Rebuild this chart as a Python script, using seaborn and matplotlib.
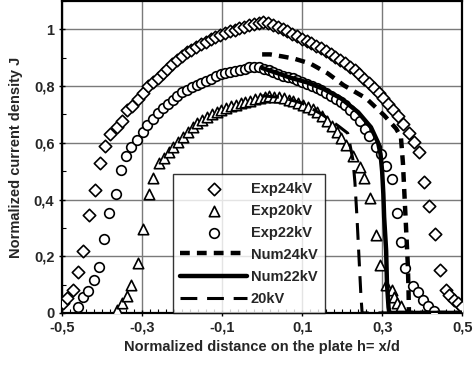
import matplotlib
matplotlib.use("Agg")
import matplotlib.pyplot as plt
import matplotlib.ticker as ticker
import seaborn as sns
import pandas as pd

# Exp24kV (diamonds)
exp24_x = [-0.497, -0.487, -0.472, -0.460, -0.447, -0.432, -0.417, -0.405, -0.392, -0.380,
           -0.362, -0.350, -0.337, -0.325, -0.310, -0.297, -0.285,
           -0.273, -0.261, -0.249, -0.237, -0.225, -0.213, -0.201, -0.189, -0.177, -0.165,
           -0.153, -0.141, -0.129, -0.117, -0.105, -0.093, -0.081, -0.069, -0.057, -0.045,
           -0.033, -0.021, -0.009, 0.003, 0.015, 0.027, 0.039, 0.051, 0.063, 0.075,
           0.087, 0.099, 0.111, 0.123, 0.135, 0.147, 0.159, 0.171, 0.183, 0.195,
           0.207, 0.219, 0.231, 0.243, 0.255, 0.267, 0.279, 0.291, 0.303, 0.315,
           0.327, 0.339, 0.352, 0.367, 0.380, 0.393, 0.405, 0.417, 0.432, 0.445,
           0.460, 0.468, 0.480, 0.490, 0.500]
exp24_y = [0.035, 0.053, 0.081, 0.144, 0.218, 0.345, 0.433, 0.528, 0.588, 0.630,
           0.655, 0.676, 0.715, 0.729, 0.753, 0.775, 0.800,
           0.815, 0.830, 0.845, 0.862, 0.877, 0.893, 0.908, 0.920, 0.928, 0.937,
           0.947, 0.955, 0.965, 0.973, 0.982, 0.988, 0.994, 0.999, 1.005, 1.010,
           1.015, 1.020, 1.024, 1.027, 1.022, 1.016, 1.010, 1.002, 0.993, 0.985,
           0.977, 0.968, 0.960, 0.951, 0.942, 0.933, 0.924, 0.914, 0.903, 0.893,
           0.882, 0.869, 0.856, 0.842, 0.826, 0.810, 0.795, 0.777, 0.757, 0.737,
           0.715, 0.693, 0.666, 0.634, 0.603, 0.567, 0.461, 0.377, 0.278, 0.151,
           0.081, 0.063, 0.046, 0.035, 0.020]

# Exp20kV (triangles)
exp20_x = [-0.362, -0.350, -0.337, -0.327, -0.310, -0.297, -0.284, -0.272, -0.257,
           -0.245, -0.234, -0.222, -0.210, -0.198, -0.186, -0.174, -0.162, -0.150, -0.138,
           -0.126, -0.114, -0.102, -0.090, -0.078, -0.066, -0.054, -0.042, -0.030, -0.018,
           -0.006, 0.006, 0.018, 0.030, 0.042, 0.054, 0.066, 0.078, 0.090, 0.102,
           0.114, 0.126, 0.138, 0.150, 0.162, 0.174, 0.186, 0.198, 0.210, 0.226,
           0.245, 0.254, 0.270, 0.284, 0.294, 0.310, 0.324, 0.330, 0.337, 0.347]
exp20_y = [0.010, 0.035, 0.060, 0.099, 0.176, 0.296, 0.419, 0.475, 0.528,
           0.548, 0.568, 0.586, 0.604, 0.622, 0.640, 0.656, 0.670, 0.682, 0.692,
           0.702, 0.710, 0.717, 0.723, 0.729, 0.734, 0.739, 0.744, 0.749, 0.754,
           0.759, 0.763, 0.764, 0.763, 0.761, 0.757, 0.752, 0.747, 0.741, 0.734,
           0.727, 0.718, 0.708, 0.694, 0.678, 0.660, 0.640, 0.618, 0.592, 0.552,
           0.515, 0.475, 0.405, 0.275, 0.169, 0.099, 0.081, 0.056, 0.036, 0.026]

# Exp22kV (circles)
exp22_x = [-0.460, -0.447, -0.435, -0.420, -0.407, -0.395, -0.382, -0.365, -0.352, -0.340,
           -0.327, -0.312, -0.297, -0.287, -0.273, -0.260,
           -0.248, -0.236, -0.224, -0.212, -0.200, -0.188, -0.176, -0.164, -0.152, -0.140,
           -0.128, -0.116, -0.104, -0.092, -0.080, -0.068, -0.056, -0.044, -0.032, -0.020,
           -0.008, 0.004, 0.016, 0.028, 0.040, 0.052, 0.064, 0.076, 0.088, 0.100,
           0.112, 0.124, 0.136, 0.148, 0.160, 0.172, 0.184, 0.196, 0.208, 0.220,
           0.232, 0.244, 0.256, 0.268, 0.284, 0.297, 0.310, 0.325, 0.337, 0.347,
           0.357, 0.377, 0.390, 0.402, 0.415, 0.430]
exp22_y = [0.021, 0.056, 0.077, 0.116, 0.162, 0.260, 0.352, 0.419, 0.505, 0.555,
           0.584, 0.609, 0.637, 0.662, 0.683, 0.704,
           0.722, 0.738, 0.752, 0.766, 0.778, 0.788, 0.797, 0.804, 0.811, 0.818,
           0.826, 0.835, 0.842, 0.848, 0.851, 0.854, 0.857, 0.861, 0.866, 0.868,
           0.867, 0.862, 0.856, 0.849, 0.843, 0.837, 0.832, 0.827, 0.821, 0.815,
           0.809, 0.801, 0.793, 0.785, 0.776, 0.766, 0.756, 0.745, 0.732, 0.716,
           0.698, 0.676, 0.650, 0.624, 0.586, 0.560, 0.520, 0.472, 0.352, 0.250,
           0.158, 0.095, 0.074, 0.046, 0.025, 0.007]

# Numerical curves
num24_x = [0.000, 0.020, 0.050, 0.080, 0.120, 0.164, 0.204, 0.260, 0.305, 0.335,
           0.347, 0.352, 0.355, 0.358, 0.361, 0.364, 0.366, 0.367, 0.500]
num24_y = [0.912, 0.912, 0.905, 0.897, 0.880, 0.845, 0.803, 0.757, 0.697, 0.650,
           0.620, 0.528, 0.440, 0.352, 0.264, 0.176, 0.080, 0.000, 0.000]

num22_x = [0.000, 0.040, 0.070, 0.113, 0.154, 0.197, 0.240, 0.272, 0.290, 0.296,
           0.300, 0.303, 0.305, 0.310, 0.312, 0.316, 0.318, 0.500]
num22_y = [0.864, 0.845, 0.830, 0.813, 0.790, 0.757, 0.708, 0.655, 0.600, 0.560,
           0.500, 0.420, 0.338, 0.220, 0.106, 0.020, 0.000, 0.000]

num20_x = [0.000, 0.050, 0.100, 0.150, 0.190, 0.214, 0.227, 0.232, 0.237, 0.242,
           0.247, 0.250, 0.500]
num20_y = [0.766, 0.760, 0.740, 0.700, 0.660, 0.634, 0.540, 0.460, 0.340, 0.200,
           0.060, 0.000, 0.000]

X_TICKS = [-0.5, -0.3, -0.1, 0.1, 0.3, 0.5]
Y_TICKS = [0, 0.2, 0.4, 0.6, 0.8, 1.0]

sns.set_theme(style="white")
plt.rcParams["font.family"] = ["Liberation Sans", "DejaVu Sans"]
plt.rcParams["font.weight"] = "bold"

fig = plt.figure(figsize=(4.74, 3.66), dpi=100)
ax = fig.add_axes([0.131, 0.145, 0.844, 0.852])

mk = dict(facecolor="white", edgecolor="black", linewidth=1.2, zorder=3)
sns.scatterplot(x=exp24_x, y=exp24_y, marker="D", s=40, label="Exp24kV", ax=ax, **mk)
sns.scatterplot(x=exp20_x, y=exp20_y, marker="^", s=56, label="Exp20kV", ax=ax, **mk)
sns.scatterplot(x=exp22_x, y=exp22_y, marker="o", s=48, label="Exp22kV", ax=ax, **mk)

lines = [
    (num24_x, num24_y, "Num24kV", 3.2, (2.2, 1.6)),
    (num22_x, num22_y, "Num22kV", 3.2, None),
    (num20_x, num20_y, "20kV", 2.2, (5.5, 3.2)),
]
for xs, ys, lab, lw, dash in lines:
    df = pd.DataFrame({"x": xs, "y": ys})
    sns.lineplot(data=df, x="x", y="y", sort=False, estimator=None, color="black",
                 linewidth=lw, label=lab, ax=ax, zorder=4)
    ln = ax.get_lines()[-1]
    if dash is not None:
        ln.set_dashes(dash)
    ln.set_dash_capstyle("butt")

ax.set_xlim(-0.5, 0.5)
ax.set_ylim(0, 1.1)
ax.set_xticks(X_TICKS)
ax.set_yticks(Y_TICKS)
fmt = ticker.FuncFormatter(lambda v, p: ("%g" % round(v, 2)).replace(".", ","))
ax.xaxis.set_major_formatter(fmt)
ax.yaxis.set_major_formatter(fmt)
ax.xaxis.set_minor_locator(ticker.MultipleLocator(0.02))
ax.yaxis.set_minor_locator(ticker.MultipleLocator(0.1))
ax.tick_params(axis="both", which="major", labelsize=10.5, length=4, width=1,
               color="black", direction="inout", bottom=True, left=True)
ax.tick_params(axis="both", which="minor", length=3, width=0.8, color="black",
               direction="in", bottom=True, left=True)
for lab in ax.get_xticklabels() + ax.get_yticklabels():
    lab.set_fontweight("bold")

ax.grid(True, which="major", color="#7a7a7a", linewidth=1.0)
for sp in ax.spines.values():
    sp.set_color("black")
    sp.set_linewidth(1.6)
ax.set_axisbelow(True)

ax.set_xlabel("Normalized distance on the plate h= x/d", fontsize=10.5,
              fontweight="bold", labelpad=4)
ax.set_ylabel("Normalized current density J", fontsize=10.5, fontweight="bold",
              labelpad=8)

leg = ax.legend(loc="lower left", bbox_to_anchor=(0.277, 0.0), borderaxespad=0,
                fontsize=10.5, frameon=True, fancybox=False, handlelength=4.6,
                handletextpad=0.25, labelspacing=0.55, borderpad=0.5)
leg.get_frame().set_edgecolor("black")
leg.get_frame().set_linewidth(1.0)
leg.set_zorder(5)
for t in leg.get_texts():
    t.set_fontweight("bold")

fig.savefig("out.png", dpi=100)
